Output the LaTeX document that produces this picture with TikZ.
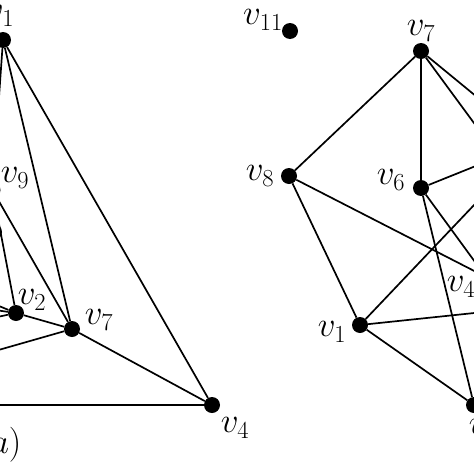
\RequirePackage{fix-cm}
\documentclass[tikz,border=0pt]{standalone}
\begin{document}
\begin{tikzpicture}[x=1pt,y=-1pt,
  vtx/.style={circle,fill=black,inner sep=0pt,minimum size=16pt},
  lbl/.style={inner sep=0pt,font=\fontsize{35}{42}\selectfont},
  edge/.style={line width=1.7pt,black}]
\useasboundingbox (0,0) rectangle (474,474);
\clip (0,0) rectangle (474,474);
% ---------- left graph ----------
\node[vtx] (L1) at (3,40) {};
\node[vtx] (L9) at (-7.5,190) {};
\node[vtx] (LX) at (-6,232) {};
\node[vtx] (L2) at (16,313) {};
\node[vtx] (L7) at (72,329) {};
\node[vtx] (L4) at (212,405) {};
\coordinate (La) at (-40,290);
\coordinate (Lb) at (-40,305);
\coordinate (Lc) at (-40,325);
\coordinate (Ld) at (-40,361);
\coordinate (Le) at (-40,405);
\node[lbl] (tL1) at (0,16) {$v_1$};
\node[lbl] (tL9) at (15,178) {$v_9$};
\node[lbl] (tL2) at (32,300) {$v_2$};
\node[lbl] (tL7) at (99,320) {$v_7$};
\node[lbl] (tL4) at (235,428) {$v_4$};
\node[lbl] (ta) at (0,445) {$(a)$};
\draw[edge] (L1) -- (L4);
\draw[edge] (L1) -- (L7);
\draw[edge] (L1) -- (L9);
\draw[edge] (L9) -- (L7);
\draw[edge] (L9) -- (L2);
\draw[edge] (L2) -- (L7);
\draw[edge] (L7) -- (L4);
\draw[edge] (L2) -- (La);
\draw[edge] (L2) -- (Lb);
\draw[edge] (L2) -- (Lc);
\draw[edge] (L7) -- (Ld);
\draw[edge] (L4) -- (Le);
% ---------- right graph ----------
\node[vtx] (R11) at (290,31) {};
\node[vtx] (R7) at (421,51) {};
\node[vtx] (R8) at (289,176) {};
\node[vtx] (R6) at (421,188) {};
\node[vtx] (R1) at (360,325) {};
\node[vtx] (R4) at (486,277) {};
\node[vtx] (R3) at (474,405) {};
\coordinate (RA) at (533,143);
\coordinate (RB) at (560,240);
\coordinate (RC) at (560,304);
\node[lbl] (tR11) at (263,20) {$v_{11}$};
\node[lbl] (tR7) at (421,31) {$v_7$};
\node[lbl] (tR8) at (260,176) {$v_8$};
\node[lbl] (tR6) at (391,180) {$v_6$};
\node[lbl] (tR1) at (332,332) {$v_1$};
\node[lbl] (tR4) at (461,287) {$v_4$};
\node[lbl] (tR3) at (483,430) {$v_3$};
\draw[edge] (R7) -- (R8);
\draw[edge] (R7) -- (R6);
\draw[edge] (R7) -- (RA);
\draw[edge] (R7) -- (RB);
\draw[edge] (R6) -- (RA);
\draw[edge] (R1) -- (RA);
\draw[edge] (R6) -- (R4);
\draw[edge] (R8) -- (R4);
\draw[edge] (R8) -- (R1);
\draw[edge] (R6) -- (R3);
\draw[edge] (R1) -- (R3);
\draw[edge] (R1) -- (RC);
\end{tikzpicture}
\end{document}
